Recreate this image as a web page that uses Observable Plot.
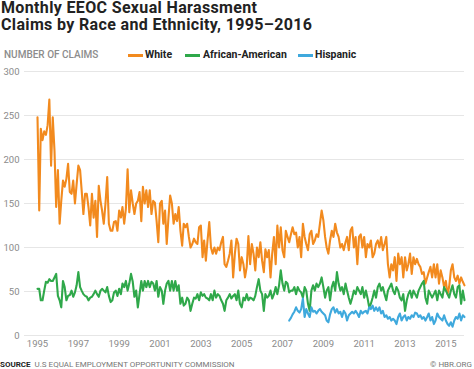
<!DOCTYPE html>
<html><head><meta charset="utf-8">
<script src="https://cdn.jsdelivr.net/npm/d3@7"></script>
<script src="https://cdn.jsdelivr.net/npm/@observablehq/plot@0.6"></script>
<style>
body{margin:0;background:#fff;width:474px;height:369px;position:relative;overflow:hidden;font-family:Roboto,"Open Sans",sans-serif}
.abs{position:absolute;white-space:nowrap}
.title{left:1px;font-weight:700;font-size:16px;line-height:16.5px;color:#222;letter-spacing:0.35px}
.ylab{font-size:10px;color:#8c8c8c;font-weight:500;letter-spacing:0px}
.lg{font-size:10.5px;color:#222;font-weight:700}
.sw{height:2.5px;width:15px}
.src{font-size:8px;color:#777}
#chart{position:absolute;left:0;top:60px}
</style></head>
<body>
<div class="abs title" style="top:0px">Monthly EEOC Sexual Harassment</div>
<div class="abs title" style="top:16.5px">Claims by Race and Ethnicity, 1995–2016</div>
<div class="abs ylab" style="left:4px;top:49px">NUMBER OF CLAIMS</div>
<div class="abs sw" style="left:128px;top:54px;background:#f28a1e"></div>
<div class="abs lg" style="left:145px;top:48px">White</div>
<div class="abs sw" style="left:185px;top:54px;background:#2fa84a"></div>
<div class="abs lg" style="left:203px;top:48px">African-American</div>
<div class="abs sw" style="left:298px;top:54px;background:#3fa9dd"></div>
<div class="abs lg" style="left:315px;top:48px">Hispanic</div>
<div id="chart"></div>
<div class="abs src" style="left:0;top:360px"><b style="color:#222">SOURCE</b>&nbsp; U.S EQUAL EMPLOYMENT OPPORTUNITY COMMISSION</div>
<div class="abs src" style="right:2px;top:360px">© HBR.ORG</div>
<script>
const seriesNames = ["White", "African-American", "Hispanic"];
const seriesColors = ["#f28a1e", "#2fa84a", "#3fa9dd"];
const startMonth = "1995-01";
const hispanicStartMonth = "2007-05";
const xTickYears = [1995, 1997, 1999, 2001, 2003, 2005, 2007, 2009, 2011, 2013, 2015];
const yTicks = [0, 50, 100, 150, 200, 250, 300];

const white = [
248,142,235,222,232,228,239,268,193,248,210,146,188,127,153,176,169,178,195,163,161,176,150,172,193,188,165,138,161,161,146,125,161,134,153,112,170,
153,142,127,150,180,127,119,119,129,130,119,142,134,146,127,144,189,140,165,150,138,150,153,163,130,169,150,165,146,165,138,153,151,130,106,150,153,127,142,104,134,159,150,127,
138,130,146,119,102,127,123,127,112,100,104,110,106,104,123,125,89,108,85,108,129,100,93,100,93,100,97,106,112,81,78,85,93,108,66,93,110,104,74,89,81,66,78,
113,81,104,93,74,100,89,106,85,72,98,89,97,66,93,112,81,125,100,123,97,89,119,112,106,115,123,115,117,100,112,89,127,112,104,97,115,119,104,108,115,
112,127,142,131,112,100,93,108,119,112,127,117,112,100,104,97,106,112,97,119,123,100,112,81,112,115,100,112,89,104,100,108,89,93,104,108,100,112,97,104,112,81,66,81,
74,89,62,93,81,89,66,89,74,81,93,70,89,81,87,81,78,70,72,59,66,72,78,66,81,66,81,59,74,66,55,62,47,55,74,81,66,62,68,59,66,61,57
];
const africanAmerican = [
53,53,40,40,51,61,60,64,62,62,66,70,45,40,32,62,55,40,45,46,51,44,49,57,72,55,51,47,45,44,40,43,44,47,51,47,44,
51,53,51,49,55,45,38,40,49,51,45,53,47,59,55,62,51,59,70,61,44,51,32,47,62,51,62,55,62,55,61,59,51,62,44,55,51,36,51,59,62,51,62,51,
62,51,57,36,43,34,36,43,40,28,36,43,42,47,40,49,45,47,43,42,40,47,40,51,43,47,45,40,36,28,40,43,47,42,45,47,40,51,36,32,43,40,47,
40,43,42,40,45,55,64,51,47,28,47,43,45,51,42,47,55,47,57,74,59,51,61,59,49,51,51,55,47,55,51,49,43,55,51,36,28,51,57,51,59,
55,59,66,55,43,51,55,40,55,61,51,72,59,51,55,47,59,51,43,36,43,51,47,55,51,47,55,43,51,43,32,36,43,51,43,55,59,51,55,47,40,51,55,59,
51,47,55,51,43,40,47,28,40,47,51,43,51,47,43,51,55,59,62,43,36,51,47,43,47,51,40,51,47,43,55,51,47,43,51,57,47,43,55,57,36,51,40
];
const hispanic = [
17,20,24,27,32,28,26,30,42,21,30,25,21,32,27,28,25,
28,30,27,25,23,17,15,24,30,32,26,30,25,27,21,28,25,17,23,25,27,25,28,25,21,28,25,27,28,25,32,30,34,28,32,28,32,25,28,21,23,19,21,17,
19,17,13,21,25,17,21,23,17,21,19,23,21,26,25,21,23,19,21,17,21,25,17,21,13,17,25,21,19,17,23,17,13,11,15,10,17,21,19,25,17,23,21
];

const parseMonth = d3.utcParse("%Y-%m");
function toRows(values, start, name) {
  const s = parseMonth(start);
  return values.map((v, i) => ({date: d3.utcMonth.offset(s, i), value: v, series: name}));
}
const rows = [
  ...toRows(white, startMonth, seriesNames[0]),
  ...toRows(africanAmerican, startMonth, seriesNames[1]),
  ...toRows(hispanic, hispanicStartMonth, seriesNames[2])
];
const lastDate = d3.utcMonth.offset(parseMonth(startMonth), white.length - 1);
const xTickDates = xTickYears.map(y => new Date(Date.UTC(y, 0, 1)));

const chart = Plot.plot({
  width: 474,
  height: 295,
  marginLeft: 37,
  marginRight: 10,
  marginTop: 11,
  marginBottom: 20,
  style: {fontFamily: "Roboto, sans-serif", fontSize: "9.5px", color: "#8a8a8a", background: "transparent", overflow: "visible"},
  x: {type: "utc", domain: [parseMonth(startMonth), lastDate], label: null},
  y: {domain: [0, 300], label: null},
  color: {domain: seriesNames, range: seriesColors},
  marks: [
    Plot.ruleY(yTicks, {stroke: "#e6e6e6", strokeWidth: 1, insetLeft: -13}),
    Plot.lineY(rows, {x: "date", y: "value", z: "series", stroke: "series", strokeWidth: 2.1, strokeLinejoin: "round"}),
    Plot.axisX({ticks: xTickDates, tickFormat: d3.utcFormat("%Y"), tickSize: 0, tickPadding: 5, label: null}),
    Plot.axisY({ticks: yTicks, tickSize: 0, tickPadding: 18, label: null})
  ]
});
document.getElementById("chart").appendChild(chart);
</script>
</body></html>
